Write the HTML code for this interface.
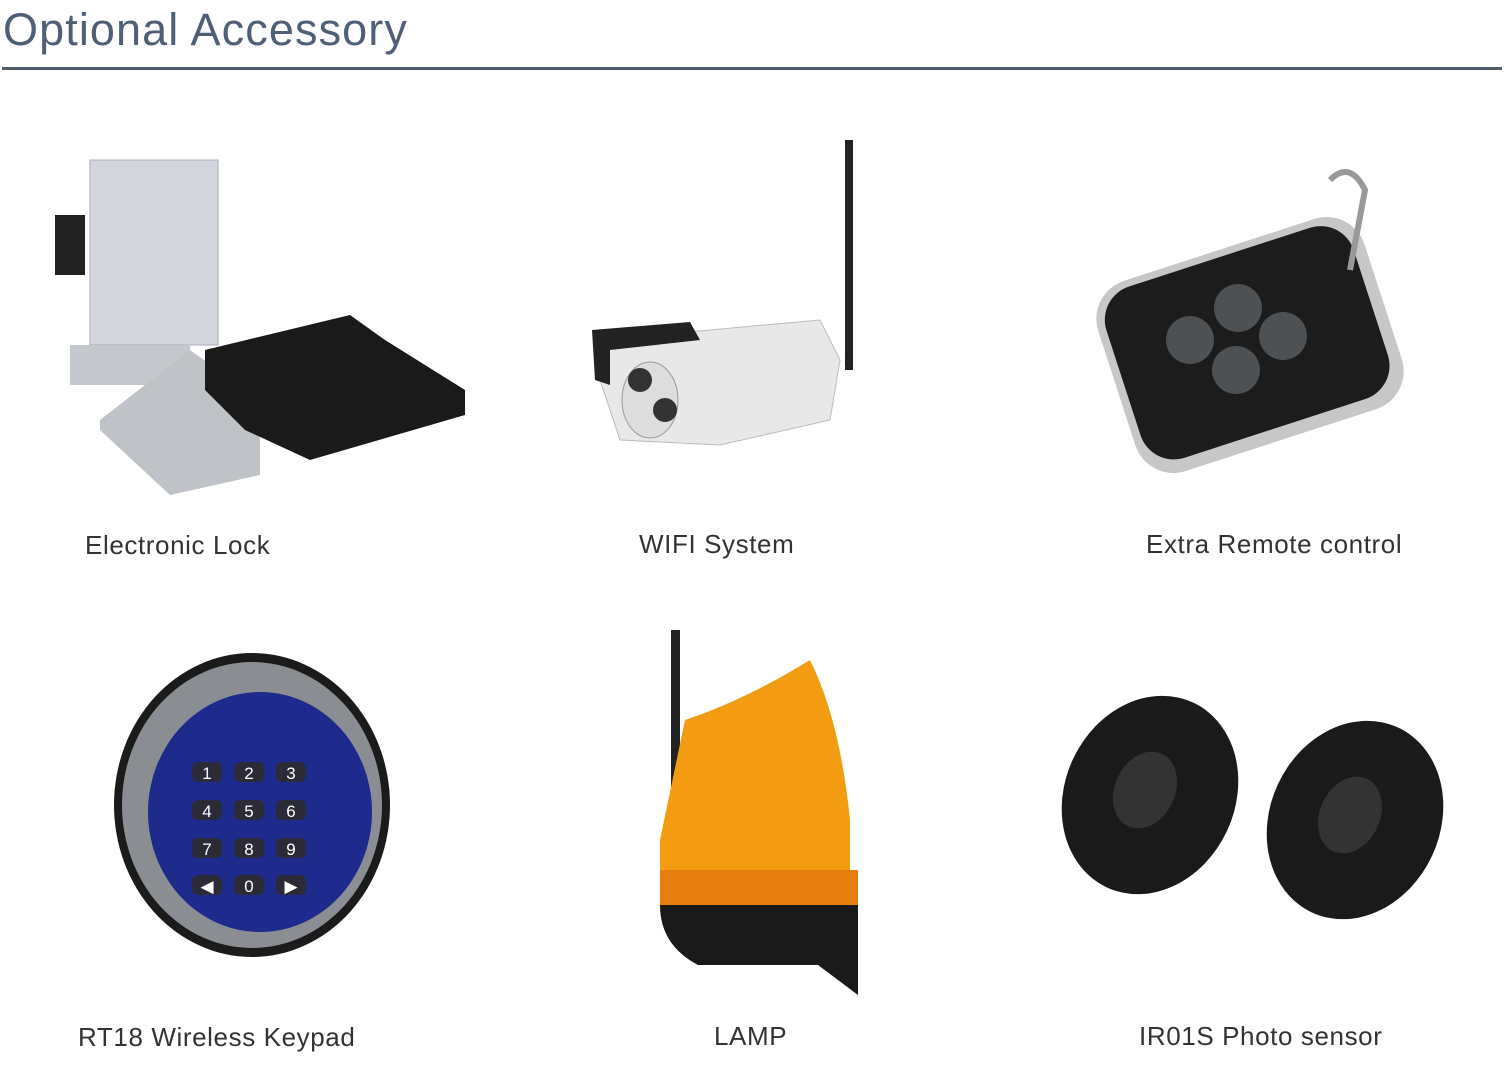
<!DOCTYPE html>
<html><head><meta charset="utf-8"><style>
html,body{margin:0;padding:0;background:#fff;width:1508px;height:1069px;overflow:hidden;position:relative;font-family:"Liberation Sans",sans-serif}
h1{position:absolute;left:3px;top:4px;margin:0;font-weight:normal;font-size:45px;color:#4f5f75;letter-spacing:1.1px}
.rule{position:absolute;left:2px;top:67px;width:1500px;height:3px;background:#4f5d70}
.lbl{position:absolute;font-size:26px;color:#333;white-space:nowrap;letter-spacing:0.6px}
svg{position:absolute;left:0;top:0}
</style></head><body>
<h1>Optional Accessory</h1>
<div class="rule"></div>
<svg width="1508" height="1069">
<!-- Electronic lock -->
<rect x="90" y="160" width="128" height="185" fill="#d3d6dc" stroke="#aab" />
<rect x="70" y="345" width="120" height="40" fill="#c4c7cb"/>
<polygon points="100,420 190,350 260,400 260,475 170,495 100,430" fill="#bfc2c6"/>
<polygon points="205,350 350,315 385,340 465,390 465,415 310,460 245,430 205,390" fill="#1a1a1a"/>
<rect x="55" y="215" width="30" height="60" fill="#222"/>
<!-- Camera -->
<rect x="845" y="140" width="8" height="230" fill="#222"/>
<polygon points="600,340 820,320 840,360 830,420 720,445 620,440 600,380" fill="#e8e8e8" stroke="#bbb"/>
<polygon points="592,330 690,322 700,340 610,350 610,385 595,380" fill="#222"/>
<ellipse cx="650" cy="400" rx="28" ry="38" fill="#ddd" stroke="#999"/>
<circle cx="640" cy="380" r="12" fill="#333"/><circle cx="665" cy="410" r="12" fill="#333"/>
<!-- Remote -->
<rect x="1110" y="245" width="280" height="200" rx="40" fill="#c7c7c7" transform="rotate(-18 1250 345)"/>
<rect x="1118" y="252" width="260" height="180" rx="35" fill="#1c1c1c" transform="rotate(-18 1250 345)"/>
<circle cx="1238" cy="308" r="24" fill="#4e5154"/><circle cx="1190" cy="340" r="24" fill="#4e5154"/>
<circle cx="1283" cy="336" r="24" fill="#4e5154"/><circle cx="1236" cy="370" r="24" fill="#4e5154"/>
<path d="M1330,180 q20,-20 35,10 l-15,80" stroke="#999" stroke-width="6" fill="none"/>
<!-- Keypad -->
<ellipse cx="252" cy="805" rx="138" ry="152" fill="#1b1b1b"/>
<ellipse cx="252" cy="805" rx="130" ry="143" fill="#8a8d92"/>
<ellipse cx="260" cy="812" rx="112" ry="120" fill="#1e2b8c"/>
<g fill="#2b2b38">
<rect x="192" y="762" width="30" height="20" rx="6"/><rect x="234" y="762" width="30" height="20" rx="6"/><rect x="276" y="762" width="30" height="20" rx="6"/>
<rect x="192" y="800" width="30" height="20" rx="6"/><rect x="234" y="800" width="30" height="20" rx="6"/><rect x="276" y="800" width="30" height="20" rx="6"/>
<rect x="192" y="838" width="30" height="20" rx="6"/><rect x="234" y="838" width="30" height="20" rx="6"/><rect x="276" y="838" width="30" height="20" rx="6"/>
<rect x="192" y="875" width="30" height="20" rx="6"/><rect x="234" y="875" width="30" height="20" rx="6"/><rect x="276" y="875" width="30" height="20" rx="6"/>
</g>
<g fill="#fff" font-size="17" font-family="Liberation Sans" text-anchor="middle">
<text x="207" y="779">1</text><text x="249" y="779">2</text><text x="291" y="779">3</text>
<text x="207" y="817">4</text><text x="249" y="817">5</text><text x="291" y="817">6</text>
<text x="207" y="855">7</text><text x="249" y="855">8</text><text x="291" y="855">9</text>
<text x="207" y="892">◀</text><text x="249" y="892">0</text><text x="291" y="892">▶</text>
</g>
<!-- Lamp -->
<rect x="671" y="630" width="9" height="250" fill="#222"/>
<path d="M685,720 q60,-20 125,-60 q30,60 40,160 l0,60 l-190,0 l0,-40 z" fill="#f39c12"/>
<rect x="660" y="870" width="198" height="40" fill="#e67e0e"/>
<path d="M660,905 l198,0 l0,90 l-40,-30 l-120,0 q-38,-20 -38,-60z" fill="#1a1a1a"/>
<!-- Photo sensors -->
<ellipse cx="1150" cy="795" rx="85" ry="102" fill="#1a1a1a" transform="rotate(25 1150 795)"/>
<ellipse cx="1355" cy="820" rx="85" ry="102" fill="#1a1a1a" transform="rotate(25 1355 820)"/>
<ellipse cx="1145" cy="790" rx="30" ry="40" fill="#333" transform="rotate(25 1145 790)"/>
<ellipse cx="1350" cy="815" rx="30" ry="40" fill="#333" transform="rotate(25 1350 815)"/>
</svg>
<div class="lbl" style="left:85px;top:530px">Electronic Lock</div>
<div class="lbl" style="left:639px;top:529px">WIFI System</div>
<div class="lbl" style="left:1146px;top:529px">Extra Remote control</div>
<div class="lbl" style="left:78px;top:1022px">RT18 Wireless Keypad</div>
<div class="lbl" style="left:714px;top:1021px">LAMP</div>
<div class="lbl" style="left:1139px;top:1021px">IR01S Photo sensor</div>
</body></html>
